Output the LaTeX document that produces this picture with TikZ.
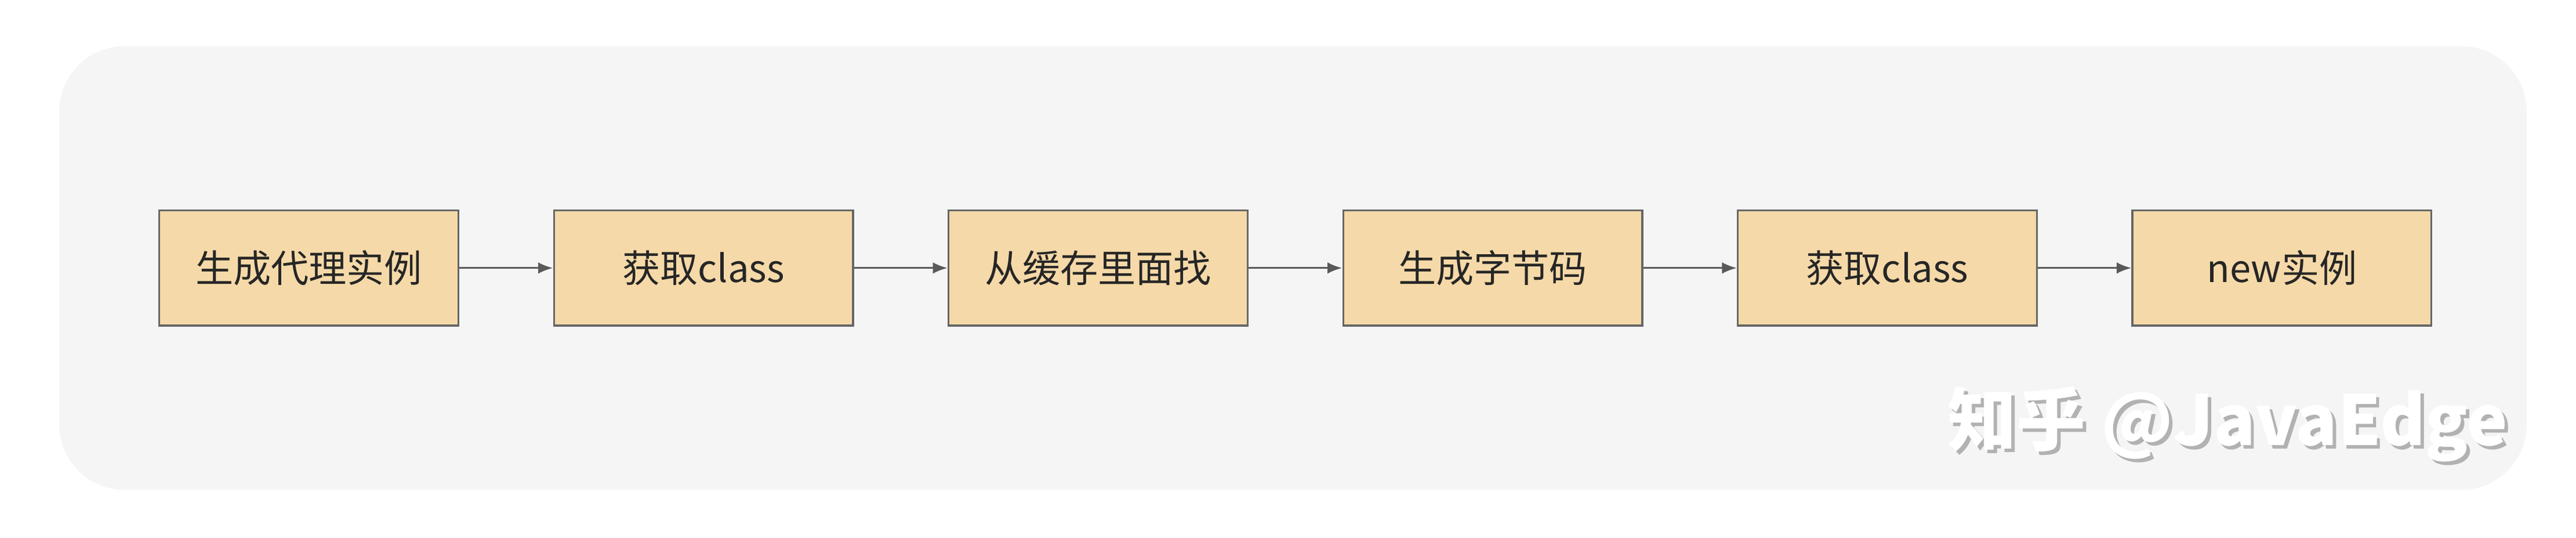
\documentclass[tikz,border=0pt]{standalone}
\usepackage{fontspec}
\setmainfont{Noto Sans CJK SC}
\usetikzlibrary{positioning,arrows.meta}
\definecolor{boxfill}{HTML}{F5D9A8}
\tikzset{
  stage/.style={draw=black!60, line width=1.2pt, fill=boxfill, minimum width=182pt,
    minimum height=70pt, inner sep=0pt, font=\fontsize{23}{27}\selectfont, text=black!85},
  flow/.style={-{Latex[length=9pt,width=7pt]}, draw=black!65, line width=1.2pt}
}
\begin{document}
\begin{tikzpicture}[x=1pt, y=-1pt]
    \useasboundingbox (0,0) rectangle (1568,327);
    % background panel
    \fill[black!4, rounded corners=40pt] (36,28) rectangle (1538,298);

    % stages
    \node[stage] (gen) at (188,163) {生成代理实例};
    \node[stage, right=57pt of gen] (getA) {获取class};
    \node[stage, right=57pt of getA] (cache) {从缓存里面找};
    \node[stage, right=57pt of cache] (bytes) {生成字节码};
    \node[stage, right=57pt of bytes] (getB) {获取class};
    \node[stage, right=57pt of getB] (inst) {new实例};

    % arrows
    \draw[flow] (gen) -- (getA);
    \draw[flow] (getA) -- (cache);
    \draw[flow] (cache) -- (bytes);
    \draw[flow] (bytes) -- (getB);
    \draw[flow] (getB) -- (inst);

    % watermark
    \node[text=black!30, font=\fontsize{42}{46}\bfseries\selectfont, anchor=east] at (1532,260) {知乎 @JavaEdge};
    \node[text=white, font=\fontsize{42}{46}\bfseries\selectfont, anchor=east] (mark) at (1530,258) {知乎 @JavaEdge};
\end{tikzpicture}
\end{document}
